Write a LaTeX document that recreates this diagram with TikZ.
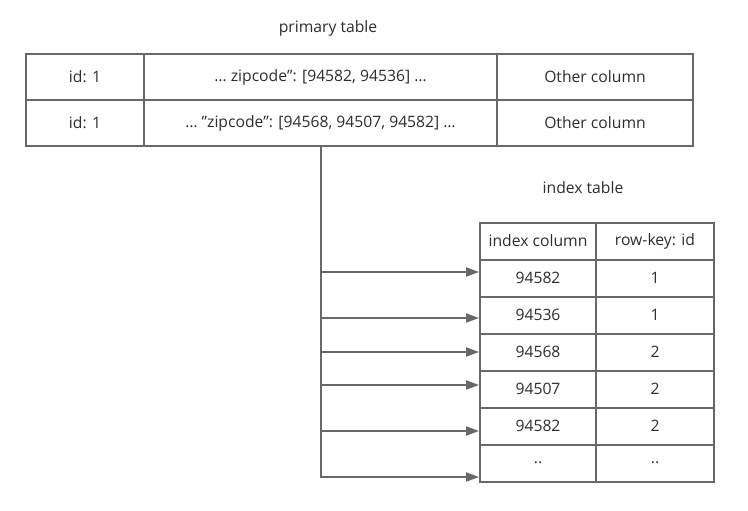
\documentclass[tikz,border=0pt]{standalone}
\usepackage{fontspec}
\setmainfont{Open Sans}[Ligatures=ResetAll]
\usepackage{xcolor}
\definecolor{edge}{RGB}{104, 104, 104}
\definecolor{ink}{RGB}{45, 45, 45}
\usetikzlibrary{arrows.meta}

\begin{document}
\begin{tikzpicture}[x=1pt, y=-1pt,
        cell/.style={draw=edge, line width=2pt, text=ink, inner sep=0pt,
            anchor=north west, minimum height=46pt, font=\fontsize{15.7}{18}\selectfont},
        icell/.style={cell, minimum height=37pt},
        caption/.style={text=ink, font=\fontsize{15.7}{18}\selectfont},
        link/.style={draw=edge, line width=2pt, -{Triangle[length=13pt, width=9pt]}}]
        % Canvas
        \useasboundingbox (0,0) rectangle (748,511);

        % Primary table
        \node[caption] (ptitle) at (328,28) {primary table};
        \node[cell, minimum width=118pt] (p11) at (25,53) {id: 1};
        \node[cell, minimum width=353pt] (p12) at (143,53) {… zipcode": [94582, 94536] …};
        \node[cell, minimum width=196pt] (p13) at (496,53) {Other column};
        \node[cell, minimum width=118pt] (p21) at (25,99) {id: 1};
        \node[cell, minimum width=353pt] (p22) at (143,99) {… "zipcode": [94568, 94507, 94582] …};
        \node[cell, minimum width=196pt] (p23) at (496,99) {Other column};

        % Index table
        \node[caption] (ititle) at (583,188) {index table};
        \node[icell, minimum width=116pt] (ic0) at (479,221.5) {index column};
        \node[icell, minimum width=118pt] (rk0) at (595,221.5) {row-key: id};
        \foreach \zip/\key [count=\i] in {94582/1, 94536/1, 94568/2, 94507/2, 94582/2, ../..} {
            \node[icell, minimum width=116pt] (ic\i) at (479,221.5+37*\i) {\zip};
            \node[icell, minimum width=118pt] (rk\i) at (595,221.5+37*\i) {\key};
        }

        % Taps on the trunk
        \foreach \i/\y in {1/272, 2/318, 3/352, 4/385, 5/431, 6/477}
            \coordinate (t\i) at (p22.south |- 0,\y);

        % Trunk and arrows into the index rows
        \draw[link] (p22.south) |- (t6 -| ic6.west);
        \foreach \i in {1,...,5}
            \draw[link] (t\i) -- (t\i -| ic\i.west);
    \end{tikzpicture}
\end{document}
